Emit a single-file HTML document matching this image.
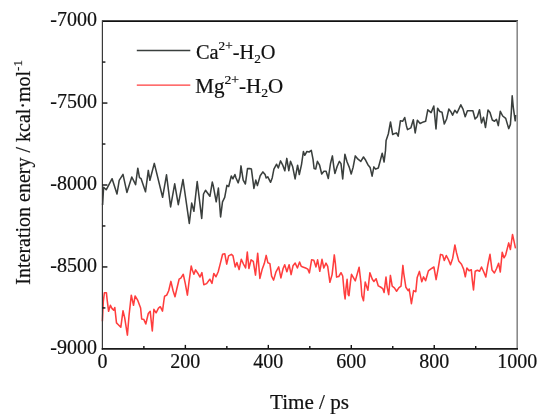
<!DOCTYPE html>
<html><head><meta charset="utf-8"><style>
html,body{margin:0;padding:0;background:#fff;}
body{width:550px;height:419px;overflow:hidden;}
svg{display:block;}
text{font-family:"Liberation Serif","DejaVu Serif",serif;fill:#111;stroke:#111;stroke-width:0.2px;}
</style></head><body>
<svg width="550" height="419" viewBox="0 0 550 419">
<rect width="550" height="419" fill="#fff"/>
<polyline fill="none" stroke="#3a3f3d" stroke-width="1.55" stroke-linejoin="round" points="102.6,205.0 103.6,187.2 106.2,189.8 112.1,178.7 117.0,194.0 119.2,180.3 123.0,174.3 126.9,192.4 131.8,177.0 135.6,184.7 137.8,168.2 139.5,177.6 141.1,178.7 145.5,191.8 148.3,170.4 149.9,180.3 154.3,163.4 162.6,197.3 166.5,174.8 170.6,206.9 174.7,183.8 178.3,204.7 183.0,179.5 189.3,223.4 191.7,203.1 193.9,211.3 197.2,181.5 201.7,218.4 203.5,194.0 205.5,190.3 209.9,196.3 212.3,182.1 213.2,185.4 216.2,201.8 218.4,188.1 220.6,216.9 222.5,201.8 224.7,197.4 226.9,185.4 228.7,186.5 231.3,176.0 232.9,178.8 234.9,174.5 236.0,178.0 238.2,182.9 239.9,176.8 241.0,165.9 241.8,171.3 243.2,180.1 245.4,184.0 247.5,168.6 249.7,168.6 251.4,169.1 253.0,181.2 253.9,188.4 255.8,180.1 257.4,185.6 260.2,175.7 262.9,171.9 265.1,174.6 266.2,177.9 267.8,176.8 270.6,182.3 272.2,177.9 273.9,169.1 276.6,164.2 278.3,168.0 280.5,160.9 282.6,164.8 284.8,170.8 286.8,158.4 288.8,170.7 290.5,161.3 292.7,166.8 295.1,178.9 297.6,165.2 299.3,174.5 301.5,164.6 303.4,151.5 304.7,155.3 306.9,151.5 309.1,152.0 311.3,150.4 313.0,159.1 314.1,168.5 315.7,169.0 317.4,161.3 319.6,165.2 321.7,174.0 323.9,171.2 326.1,171.2 328.3,178.4 330.5,163.5 332.4,155.9 333.8,166.8 334.9,173.4 337.2,166.3 339.4,161.4 341.0,163.6 342.7,179.0 344.9,154.3 347.1,162.0 349.3,167.4 351.2,174.0 353.1,167.4 355.3,155.9 358.0,159.2 360.8,161.4 363.5,157.0 365.7,160.3 367.9,164.7 370.1,167.4 372.1,176.2 373.9,166.9 375.6,169.1 378.3,168.0 380.5,159.8 382.2,153.2 384.1,162.0 385.5,150.4 386.1,140.4 388.3,134.0 390.5,122.0 392.7,134.5 394.9,133.4 396.5,132.9 398.2,136.2 400.4,120.8 402.6,121.3 404.7,117.5 406.4,125.7 407.5,129.6 410.8,127.9 413.3,119.7 415.2,132.9 417.4,120.2 420.1,123.5 423.4,121.9 425.6,121.3 427.8,109.8 431.1,112.6 433.8,106.0 436.0,129.0 437.6,108.2 439.8,111.5 442.0,112.2 444.3,124.0 446.6,119.0 448.8,109.1 451.0,111.9 452.6,115.2 454.8,110.2 457.0,113.0 460.8,104.8 463.0,109.1 465.2,116.8 467.4,110.8 472.9,110.8 475.1,119.0 477.3,116.8 479.5,109.7 481.5,123.0 483.5,117.3 485.5,127.5 488.0,110.0 490.0,112.5 492.3,120.0 494.5,121.2 496.5,119.4 498.3,125.6 500.3,111.3 502.7,116.0 505.7,118.4 508.7,128.6 510.4,124.4 511.3,112.4 512.2,95.7 513.2,106.5 514.0,112.4 515.2,120.8 515.8,114.8"/>
<polyline fill="none" stroke="#ff3d3d" stroke-width="1.55" stroke-linejoin="round" points="102.4,321.3 103.3,301.6 104.4,292.7 106.4,292.7 107.1,299.3 108.6,311.3 110.4,305.3 112.1,308.6 113.7,310.2 114.8,307.5 116.5,322.9 118.1,324.5 120.8,327.3 123.0,310.8 124.7,317.9 127.4,335.1 129.1,314.8 131.3,295.2 133.5,305.3 135.1,296.0 137.8,300.4 140.6,308.0 141.7,319.0 143.9,319.6 145.8,324.0 148.3,313.5 150.2,311.3 152.3,331.0 153.9,309.3 156.1,312.8 158.5,308.2 160.3,306.7 162.5,311.1 163.9,300.5 164.6,296.2 166.7,295.1 168.7,290.7 170.9,281.4 173.1,290.7 175.0,296.8 176.9,288.5 179.1,279.2 180.8,278.1 183.3,274.3 185.2,283.1 187.4,295.1 189.0,282.0 191.2,266.0 192.3,269.9 193.9,274.3 195.6,269.9 197.8,273.2 200.0,277.0 201.9,272.6 203.8,284.7 206.6,283.6 209.8,279.2 212.0,283.4 213.8,273.5 216.0,276.8 218.2,271.8 220.4,263.1 222.6,254.3 224.8,253.7 226.7,264.1 228.6,255.9 231.4,254.3 233.0,255.9 235.2,266.9 236.9,262.5 239.1,269.6 241.3,259.2 243.5,264.1 245.6,268.0 247.3,252.1 248.9,268.5 251.1,259.8 253.3,261.4 255.5,275.1 257.7,253.2 259.9,278.4 262.1,269.6 264.3,263.6 266.2,255.4 267.9,262.8 269.9,263.6 271.6,276.2 273.6,280.1 276.0,271.8 278.7,266.9 280.9,277.9 283.1,268.5 284.7,264.7 286.9,271.8 289.1,264.7 291.1,274.6 293.0,265.8 295.2,263.1 297.4,268.0 299.6,262.0 301.2,266.3 302.8,266.9 305.6,268.0 307.8,269.1 309.4,272.9 311.6,259.8 313.8,260.3 316.0,266.9 317.6,259.8 319.8,271.3 322.0,259.3 323.8,268.0 326.0,263.1 327.7,266.4 329.9,282.3 332.1,274.6 333.2,264.8 334.3,254.9 335.4,263.7 336.6,277.1 338.8,276.5 341.0,272.7 342.7,276.0 344.3,293.5 345.1,299.0 346.0,288.1 347.1,279.3 348.2,294.6 349.0,295.7 350.4,282.6 351.5,274.3 355.3,280.9 359.1,267.2 360.8,281.5 361.9,295.7 363.5,300.7 365.2,282.0 366.8,287.0 367.9,290.2 369.9,272.7 372.3,279.3 373.9,281.5 376.1,278.7 378.3,285.9 380.5,287.0 382.7,288.6 384.1,292.4 386.0,277.1 387.1,287.0 388.7,294.6 390.4,275.4 392.2,286.2 394.4,287.9 396.6,291.2 398.8,287.9 401.0,286.2 402.9,265.4 403.7,273.1 405.9,287.3 408.1,290.6 409.2,289.0 411.4,303.7 413.6,290.6 415.8,291.7 417.2,277.4 419.4,271.4 421.8,281.8 423.5,276.9 425.6,280.7 428.4,270.9 430.6,269.2 433.9,267.0 436.1,279.6 438.3,267.6 440.5,254.4 442.6,254.9 444.3,260.4 446.3,255.5 448.3,259.3 450.5,264.8 452.7,258.2 454.9,245.0 456.5,252.7 458.7,260.9 461.5,264.2 463.6,269.1 465.3,276.8 466.9,268.0 469.1,270.8 471.3,269.7 472.4,281.2 473.5,290.0 475.2,271.3 477.4,270.2 479.6,271.3 481.5,267.0 483.8,272.0 485.8,277.0 487.8,265.0 490.0,254.3 492.0,270.0 494.4,273.0 496.6,268.5 498.6,263.2 500.3,272.0 502.2,252.3 504.0,257.8 505.7,254.8 508.7,242.9 510.4,249.5 512.5,234.5 514.0,241.1 515.5,248.3"/>
<g fill="none">
<line x1="102.4" y1="21.1" x2="518.0" y2="21.1" stroke="#111" stroke-width="1.9"/>
<line x1="517.2" y1="21.1" x2="517.2" y2="348.9" stroke="#8a8a8a" stroke-width="1.6"/>
<line x1="102.4" y1="20.200000000000003" x2="102.4" y2="349.79999999999995" stroke="#3a3a3a" stroke-width="1.2"/>
<line x1="101.7" y1="348.9" x2="518.0" y2="348.9" stroke="#1a1a1a" stroke-width="1.8"/>
<g stroke="#111" stroke-width="1.4"><line x1="143.88" y1="348.9" x2="143.88" y2="345.9"/><line x1="185.36" y1="348.9" x2="185.36" y2="344.9"/><line x1="226.84" y1="348.9" x2="226.84" y2="345.9"/><line x1="268.32" y1="348.9" x2="268.32" y2="344.9"/><line x1="309.80" y1="348.9" x2="309.80" y2="345.9"/><line x1="351.28" y1="348.9" x2="351.28" y2="344.9"/><line x1="392.76" y1="348.9" x2="392.76" y2="345.9"/><line x1="434.24" y1="348.9" x2="434.24" y2="344.9"/><line x1="475.72" y1="348.9" x2="475.72" y2="345.9"/><line x1="102.4" y1="62.07" x2="105.4" y2="62.07"/><line x1="102.4" y1="103.05" x2="107.4" y2="103.05"/><line x1="102.4" y1="144.02" x2="105.4" y2="144.02"/><line x1="102.4" y1="185.00" x2="107.4" y2="185.00"/><line x1="102.4" y1="225.97" x2="105.4" y2="225.97"/><line x1="102.4" y1="266.95" x2="107.4" y2="266.95"/><line x1="102.4" y1="307.92" x2="105.4" y2="307.92"/></g>
</g>
<g font-size="20"><text x="97" y="26.40" text-anchor="end">-7000</text><text x="97" y="108.35" text-anchor="end">-7500</text><text x="97" y="190.30" text-anchor="end">-8000</text><text x="97" y="272.25" text-anchor="end">-8500</text><text x="97" y="354.20" text-anchor="end">-9000</text></g>
<g font-size="20"><text x="102.40" y="368.4" text-anchor="middle">0</text><text x="185.36" y="368.4" text-anchor="middle">200</text><text x="268.32" y="368.4" text-anchor="middle">400</text><text x="351.28" y="368.4" text-anchor="middle">600</text><text x="434.24" y="368.4" text-anchor="middle">800</text><text x="517.20" y="368.4" text-anchor="middle">1000</text></g>
<text x="270" y="409.3" font-size="20" textLength="79" lengthAdjust="spacingAndGlyphs">Time / ps</text>
<text transform="translate(29.8,284.7) rotate(-90)" font-size="20">Interation enery / kcal·mol<tspan font-size="13" dy="-8">-1</tspan></text>
<line x1="136.8" y1="50.5" x2="190.3" y2="50.5" stroke="#3a3f3d" stroke-width="1.4"/>
<line x1="136.8" y1="85.1" x2="190.3" y2="85.1" stroke="#ff3d3d" stroke-width="1.4"/>
<text x="196.0" y="58.6" font-size="20" textLength="79.5" lengthAdjust="spacingAndGlyphs">Ca<tspan font-size="13" dy="-9">2+</tspan><tspan dy="9">-H</tspan><tspan font-size="13" dy="4">2</tspan><tspan dy="-4">O</tspan></text>
<text x="195.3" y="92.7" font-size="20" textLength="88" lengthAdjust="spacingAndGlyphs">Mg<tspan font-size="13" dy="-9">2+</tspan><tspan dy="9">-H</tspan><tspan font-size="13" dy="4">2</tspan><tspan dy="-4">O</tspan></text>
</svg>
</body></html>
